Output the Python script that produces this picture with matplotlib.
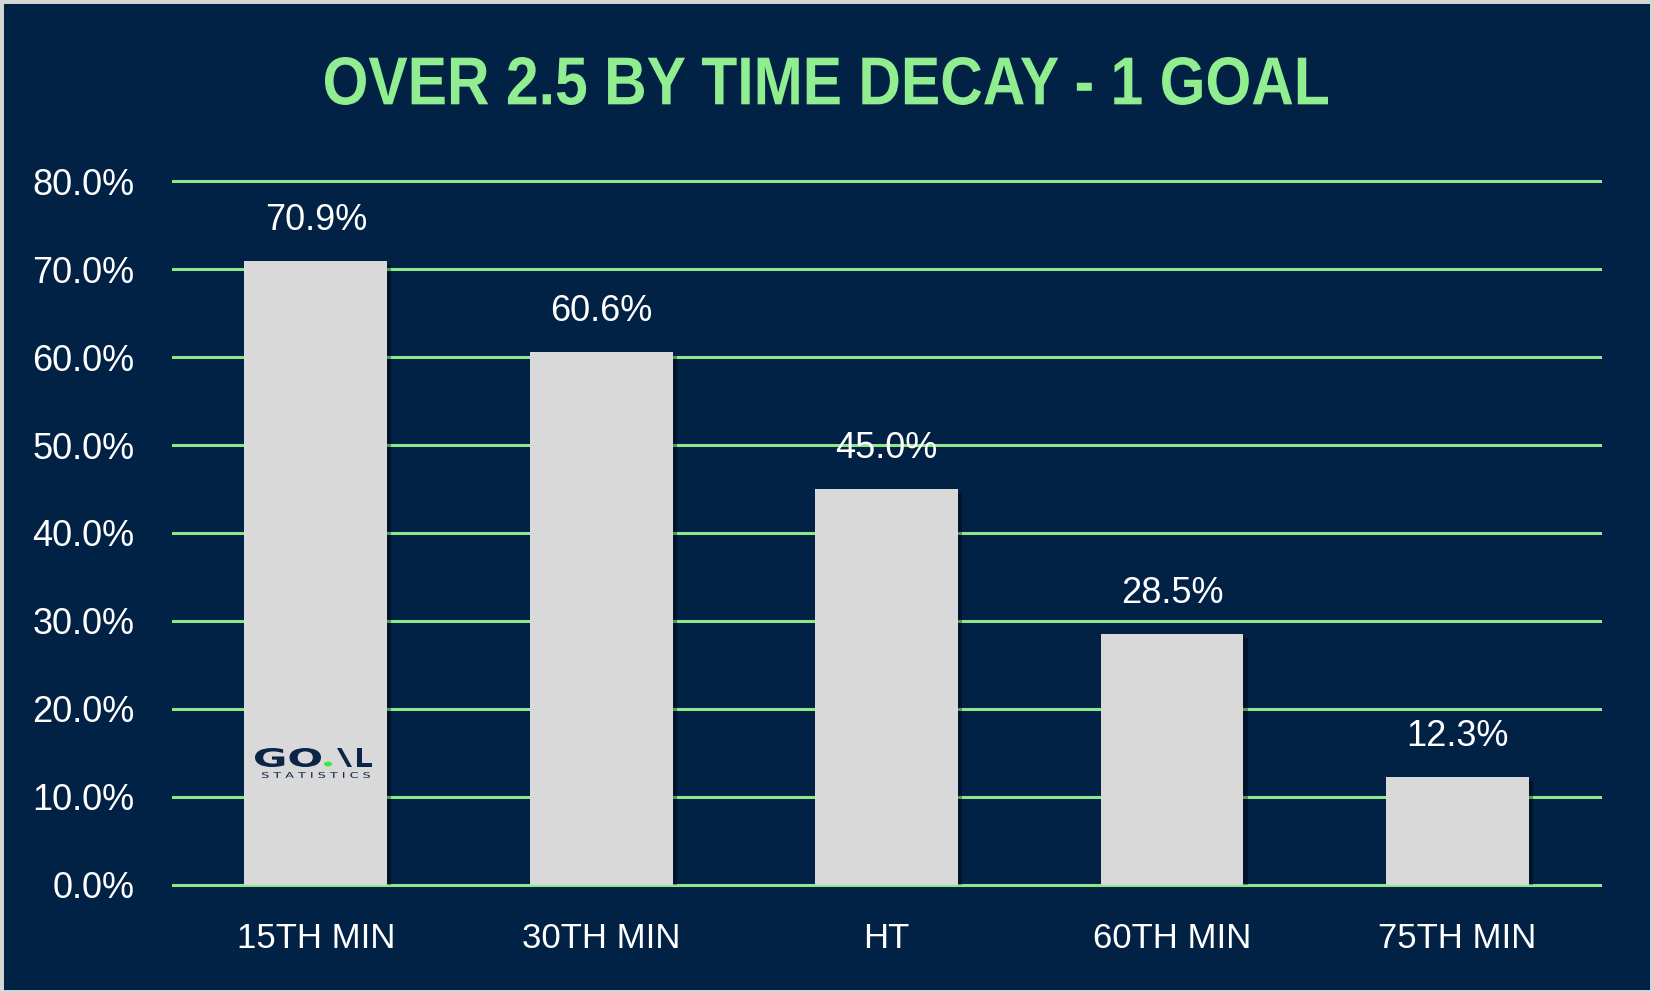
import matplotlib.pyplot as plt
import matplotlib.patheffects as pe
from matplotlib.patches import Rectangle, PathPatch, Circle
from matplotlib.textpath import TextPath
from matplotlib.font_manager import FontProperties
from matplotlib.transforms import Affine2D
from matplotlib.ticker import FuncFormatter

# ── Data ──────────────────────────────────────────────────────────────────────
categories = ["15TH MIN", "30TH MIN", "HT", "60TH MIN", "75TH MIN"]
values = [70.9, 60.6, 45.0, 28.5, 12.3]          # percent
y_ticks = [0, 10, 20, 30, 40, 50, 60, 70, 80]

# ── Palette ───────────────────────────────────────────────────────────────────
C_BG = "#012145"
C_GREEN = "#90EE90"
C_GRID = "#8EE68A"
C_BAR = "#D9D9D9"
C_TXT = "white"
C_BORDER = "#D6D6D6"
C_LOGO = "#0B2447"
FONT = "Liberation Sans"

W, H = 1653, 993
fig = plt.figure(figsize=(W / 100, H / 100), dpi=100, facecolor=C_BG)
ax = fig.add_axes([0.1047, 0.1088, 0.8633, 0.7089])
ax.set_facecolor(C_BG)


def fit_text(s, x0, x1, ytop, ybot, color, weight="bold", family="Liberation Sans", z=12):
    """Draw text as a path stretched to fill a pixel box (y measured from top)."""
    tp = TextPath((0, 0), s, size=100, prop=FontProperties(family=family, weight=weight))
    bb = tp.get_extents()
    sx = (x1 - x0) / bb.width
    sy = (ybot - ytop) / bb.height
    tr = (Affine2D().translate(-bb.x0, -bb.y0).scale(sx, sy)
          .translate(x0, H - ybot).scale(1 / W, 1 / H))
    p = tr.transform_path(tp)
    fig.patches.append(PathPatch(p, transform=fig.transFigure, facecolor=color,
                                 edgecolor="none", zorder=z))


# gridlines
for t in y_ticks:
    ax.axhline(t, color=C_GRID, lw=2.2, zorder=1, clip_on=False)

x = list(range(len(categories)))
bars = ax.bar(x, values, width=0.5, color=C_BAR, zorder=3)
for b in bars:
    b.set_path_effects([pe.SimplePatchShadow(offset=(3, -3), shadow_rgbFace="black", alpha=0.35),
                        pe.Normal()])

for xi, v in zip(x, values):
    ax.annotate(f"{v:.1f}%", (xi, v), xytext=(0, 29), textcoords="offset points",
                ha="center", va="center", fontsize=26, color=C_TXT, fontfamily=FONT, zorder=5)

ax.set_xlim(-0.5, len(categories) - 0.5)
ax.set_ylim(0, 80)
ax.set_yticks(y_ticks)
ax.yaxis.set_major_formatter(FuncFormatter(lambda v, _: f"{v:.1f}%"))
ax.set_xticks(x)
ax.set_xticklabels(categories)
ax.tick_params(axis="y", length=0, pad=28, labelsize=26, labelcolor=C_TXT)
ax.tick_params(axis="x", length=0, pad=27, labelsize=25, labelcolor=C_TXT)
for lab in ax.get_xticklabels() + ax.get_yticklabels():
    lab.set_fontfamily(FONT)
for s in ax.spines.values():
    s.set_visible(False)

# ── Title (condensed bold, stretched to the reference box) ───────────────────
fit_text("OVER 2.5 BY TIME DECAY - 1 GOAL", 325, 1328, 57, 105, C_GREEN)

# ── Logo on first bar ─────────────────────────────────────────────────────────
fit_text("GO", 255, 321, 748, 767, C_LOGO, family="DejaVu Sans")
fit_text("\\", 337, 352, 748, 767, C_LOGO, family="DejaVu Sans")
fit_text("L", 357, 372, 748, 767, C_LOGO, family="DejaVu Sans")
fig.patches.append(Circle((328 / W, (H - 764) / H), 4.0 / W, transform=fig.transFigure,
                          facecolor="#3CE63C", edgecolor="none", zorder=12))
fit_text("S T A T I S T I C S", 262, 370, 772, 778, C_LOGO, weight="normal",
         family="DejaVu Sans")

# ── Outer border ──────────────────────────────────────────────────────────────
fig.patches.append(Rectangle((0, 0), 1, 1, transform=fig.transFigure, fill=False,
                             edgecolor=C_BORDER, lw=5, zorder=10))

fig.savefig("out.png", dpi=100, facecolor=C_BG)
